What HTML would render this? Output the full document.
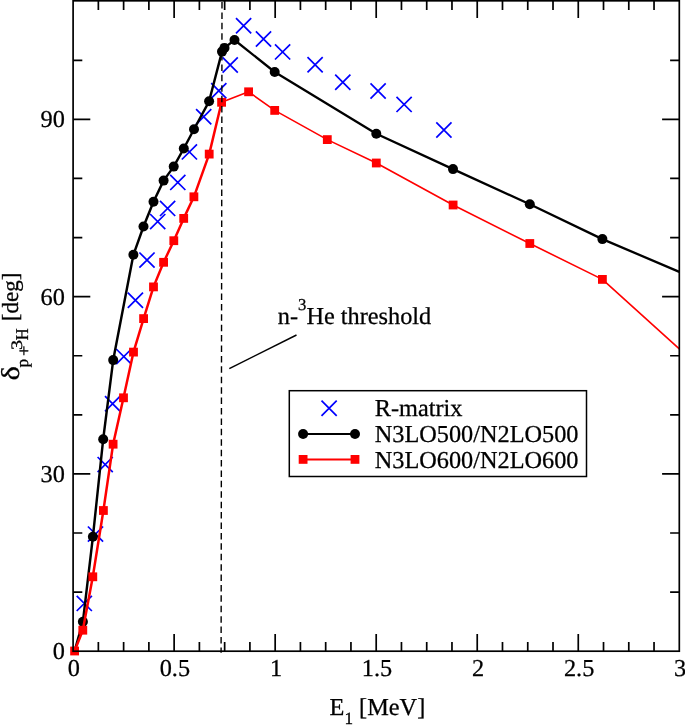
<!DOCTYPE html>
<html><head><meta charset="utf-8"><title>p+3H phase shift</title>
<style>html,body{margin:0;padding:0;background:#fff}svg{display:block}text{font-family:"Liberation Serif",serif;fill:#000;stroke:#000;stroke-width:0.28px;text-rendering:geometricPrecision}</style>
</head><body>
<svg width="685" height="725" viewBox="0 0 685 725">
<rect x="0" y="0" width="685" height="725" fill="#fff"/>
<path d="M76.7 595.8L91.9 611.0M76.7 611.0L91.9 595.8M87.9 526.5L103.1 541.7M87.9 541.7L103.1 526.5M97.6 457.0L112.8 472.2M97.6 472.2L112.8 457.0M105.0 396.1L120.2 411.3M105.0 411.3L120.2 396.1M116.2 349.0L131.4 364.2M116.2 364.2L131.4 349.0M127.8 292.7L143.0 307.9M127.8 307.9L143.0 292.7M139.4 252.5L154.6 267.7M139.4 267.7L154.6 252.5M150.1 214.0L165.3 229.2M150.1 229.2L165.3 214.0M160.0 200.8L175.2 216.0M160.0 216.0L175.2 200.8M170.2 174.8L185.4 190.0M170.2 190.0L185.4 174.8M181.8 144.3L197.0 159.5M181.8 159.5L197.0 144.3M196.1 109.1L211.3 124.3M196.1 124.3L211.3 109.1M211.2 83.2L226.4 98.4M211.2 98.4L226.4 83.2M222.6 57.4L237.8 72.6M222.6 72.6L237.8 57.4M236.0 18.2L251.2 33.4M236.0 33.4L251.2 18.2M255.9 31.4L271.1 46.6M255.9 46.6L271.1 31.4M275.0 44.3L290.2 59.5M275.0 59.5L290.2 44.3M307.5 57.2L322.7 72.4M307.5 72.4L322.7 57.2M335.2 74.7L350.4 89.9M335.2 89.9L350.4 74.7M370.5 83.4L385.7 98.6M370.5 98.6L385.7 83.4M396.5 96.8L411.7 112.0M396.5 112.0L411.7 96.8M436.3 122.4L451.5 137.6M436.3 137.6L451.5 122.4" stroke="#00f" stroke-width="1.7" fill="none"/>
<polyline points="74.6,651.0 82.9,621.7 92.9,536.8 103.2,439.2 113.2,360.1 133.4,254.8 143.5,226.5 153.5,201.7 163.6,180.6 173.7,166.6 183.8,148.5 194.0,129.3 209.1,101.3 222.0,51.6" fill="none" stroke="#000" stroke-width="2.45" stroke-linejoin="round"/>
<polyline points="222.0,51.6 224.5,47.9 234.5,40.0 274.7,72.0 376.3,133.7 453.0,169.1 529.8,204.2 602.4,239.1 679.3,271.9" fill="none" stroke="#000" stroke-width="2.3" stroke-linejoin="round"/>
<circle cx="82.9" cy="621.7" r="5.0" fill="#000"/>
<circle cx="92.9" cy="536.8" r="5.0" fill="#000"/>
<circle cx="103.2" cy="439.2" r="5.0" fill="#000"/>
<circle cx="113.2" cy="360.1" r="5.0" fill="#000"/>
<circle cx="133.4" cy="254.8" r="5.0" fill="#000"/>
<circle cx="143.5" cy="226.5" r="5.0" fill="#000"/>
<circle cx="153.5" cy="201.7" r="5.0" fill="#000"/>
<circle cx="163.6" cy="180.6" r="5.0" fill="#000"/>
<circle cx="173.7" cy="166.6" r="5.0" fill="#000"/>
<circle cx="183.8" cy="148.5" r="5.0" fill="#000"/>
<circle cx="194.0" cy="129.3" r="5.0" fill="#000"/>
<circle cx="209.1" cy="101.3" r="5.0" fill="#000"/>
<circle cx="222.0" cy="51.6" r="5.0" fill="#000"/>
<circle cx="224.5" cy="47.9" r="5.0" fill="#000"/>
<circle cx="234.5" cy="40.0" r="5.0" fill="#000"/>
<circle cx="274.7" cy="72.0" r="5.0" fill="#000"/>
<circle cx="376.3" cy="133.7" r="5.0" fill="#000"/>
<circle cx="453.0" cy="169.1" r="5.0" fill="#000"/>
<circle cx="529.8" cy="204.2" r="5.0" fill="#000"/>
<circle cx="602.4" cy="239.1" r="5.0" fill="#000"/>
<polyline points="74.6,651.0 82.8,630.2 92.8,576.8 103.4,510.5 113.1,444.2 123.5,397.8 133.5,352.1 143.6,318.6 153.5,286.9 163.6,262.3 173.8,240.7 183.7,218.4 193.9,196.8 209.2,154.1 221.6,102.3" fill="none" stroke="#f00" stroke-width="2.5" stroke-linejoin="round"/>
<polyline points="221.6,102.3 248.6,91.8 274.7,110.4 327.3,139.6 376.3,163.0 453.1,205.0 529.8,243.5 602.4,279.4 679.3,348.8" fill="none" stroke="#f00" stroke-width="1.6" stroke-linejoin="round"/>
<rect x="70.2" y="646.6" width="8.8" height="8.8" fill="#f00"/>
<rect x="78.4" y="625.8" width="8.8" height="8.8" fill="#f00"/>
<rect x="88.4" y="572.4" width="8.8" height="8.8" fill="#f00"/>
<rect x="99.0" y="506.1" width="8.8" height="8.8" fill="#f00"/>
<rect x="108.7" y="439.8" width="8.8" height="8.8" fill="#f00"/>
<rect x="119.1" y="393.4" width="8.8" height="8.8" fill="#f00"/>
<rect x="129.1" y="347.7" width="8.8" height="8.8" fill="#f00"/>
<rect x="139.2" y="314.2" width="8.8" height="8.8" fill="#f00"/>
<rect x="149.1" y="282.5" width="8.8" height="8.8" fill="#f00"/>
<rect x="159.2" y="257.9" width="8.8" height="8.8" fill="#f00"/>
<rect x="169.4" y="236.3" width="8.8" height="8.8" fill="#f00"/>
<rect x="179.3" y="214.0" width="8.8" height="8.8" fill="#f00"/>
<rect x="189.5" y="192.4" width="8.8" height="8.8" fill="#f00"/>
<rect x="204.8" y="149.7" width="8.8" height="8.8" fill="#f00"/>
<rect x="217.2" y="97.9" width="8.8" height="8.8" fill="#f00"/>
<rect x="244.2" y="87.4" width="8.8" height="8.8" fill="#f00"/>
<rect x="270.3" y="106.0" width="8.8" height="8.8" fill="#f00"/>
<rect x="322.9" y="135.2" width="8.8" height="8.8" fill="#f00"/>
<rect x="371.9" y="158.6" width="8.8" height="8.8" fill="#f00"/>
<rect x="448.7" y="200.6" width="8.8" height="8.8" fill="#f00"/>
<rect x="525.4" y="239.1" width="8.8" height="8.8" fill="#f00"/>
<rect x="598.0" y="275.0" width="8.8" height="8.8" fill="#f00"/>
<line x1="222.0" y1="2.0" x2="221.1" y2="652.7" stroke="#000" stroke-width="1.4" stroke-dasharray="6.5 3.91"/>
<rect x="73.1" y="0.8" width="606.2" height="650.4" fill="none" stroke="#000" stroke-width="1.7"/>
<path d="M98.36 651.2v-9.2M98.36 0.8v9.2M123.62 651.2v-9.2M123.62 0.8v9.2M148.88 651.2v-9.2M148.88 0.8v9.2M174.13 651.2v-17.2M174.13 0.8v17.2M199.39 651.2v-9.2M199.39 0.8v9.2M224.65 651.2v-9.2M224.65 0.8v9.2M249.91 651.2v-9.2M249.91 0.8v9.2M275.17 651.2v-17.2M275.17 0.8v17.2M300.42 651.2v-9.2M300.42 0.8v9.2M325.68 651.2v-9.2M325.68 0.8v9.2M350.94 651.2v-9.2M350.94 0.8v9.2M376.20 651.2v-17.2M376.20 0.8v17.2M401.46 651.2v-9.2M401.46 0.8v9.2M426.72 651.2v-9.2M426.72 0.8v9.2M451.97 651.2v-9.2M451.97 0.8v9.2M477.23 651.2v-17.2M477.23 0.8v17.2M502.49 651.2v-9.2M502.49 0.8v9.2M527.75 651.2v-9.2M527.75 0.8v9.2M553.01 651.2v-9.2M553.01 0.8v9.2M578.27 651.2v-17.2M578.27 0.8v17.2M603.52 651.2v-9.2M603.52 0.8v9.2M628.78 651.2v-9.2M628.78 0.8v9.2M654.04 651.2v-9.2M654.04 0.8v9.2M73.1 592.11h9.2M679.3 592.11h-9.2M73.1 533.02h9.2M679.3 533.02h-9.2M73.1 473.93h17.2M679.3 473.93h-17.2M73.1 414.84h9.2M679.3 414.84h-9.2M73.1 355.75h9.2M679.3 355.75h-9.2M73.1 296.65h17.2M679.3 296.65h-17.2M73.1 237.56h9.2M679.3 237.56h-9.2M73.1 178.47h9.2M679.3 178.47h-9.2M73.1 119.38h17.2M679.3 119.38h-17.2M73.1 60.29h9.2M679.3 60.29h-9.2" stroke="#000" stroke-width="1.7" fill="none"/>
<text transform="translate(73.9,676.1) scale(1,1)" font-size="24.3" text-anchor="middle">0</text>
<text transform="translate(174.9,676.1) scale(1,1)" font-size="24.3" text-anchor="middle">0.5</text>
<text transform="translate(276.0,676.1) scale(1,1)" font-size="24.3" text-anchor="middle">1</text>
<text transform="translate(377.0,676.1) scale(1,1)" font-size="24.3" text-anchor="middle">1.5</text>
<text transform="translate(478.0,676.1) scale(1,1)" font-size="24.3" text-anchor="middle">2</text>
<text transform="translate(579.1,676.1) scale(1,1)" font-size="24.3" text-anchor="middle">2.5</text>
<text transform="translate(680.1,676.1) scale(1,1)" font-size="24.3" text-anchor="middle">3</text>
<text transform="translate(64.8,659.2) scale(1,1)" font-size="24.3" text-anchor="end">0</text>
<text transform="translate(64.8,481.9) scale(1,1)" font-size="24.3" text-anchor="end">30</text>
<text transform="translate(64.8,304.7) scale(1,1)" font-size="24.3" text-anchor="end">60</text>
<text transform="translate(64.8,127.4) scale(1,1)" font-size="24.3" text-anchor="end">90</text>
<text transform="translate(329.6,714.9) scale(1,1)" font-size="24.3">E<tspan dy="9.5" font-size="17.2">1</tspan><tspan dy="-9.5"> [MeV]</tspan></text>
<text transform="translate(19.4,380.4) rotate(-90) scale(1.26,1.06)" font-size="24.3">δ</text>
<text transform="translate(28.0,367.5) rotate(-90) scale(1,1)" font-size="17.2">p</text>
<text transform="translate(29.9,355.9) rotate(-90) scale(1,1)" font-size="18.5">+</text>
<text transform="translate(22.0,349.9) rotate(-90) scale(1.25,1)" font-size="16">3</text>
<text transform="translate(28.0,340.2) rotate(-90) scale(0.91,1)" font-size="18.1">H</text>
<text transform="translate(18.1,321.3) rotate(-90) scale(1,1)" font-size="23.1">[deg]</text>
<text transform="translate(277.8,323.5) scale(1,1)" font-size="24.3">n-<tspan dy="-13.7" font-size="16.7">3</tspan><tspan dy="13.7">He threshold</tspan></text>
<line x1="229.3" y1="368.6" x2="296.5" y2="335" stroke="#000" stroke-width="1.5"/>
<rect x="289.3" y="390.7" width="297.2" height="85.8" fill="#fff" stroke="#000" stroke-width="1.5"/>
<path d="M321.5 400.7L336.7 415.9M321.5 415.9L336.7 400.7" stroke="#00f" stroke-width="1.7" fill="none"/>
<line x1="303.1" y1="434.1" x2="355" y2="434.1" stroke="#000" stroke-width="2.0"/>
<circle cx="303.1" cy="434" r="5.0"/><circle cx="355" cy="434" r="5.0"/>
<line x1="303.1" y1="459.5" x2="355" y2="459.5" stroke="#f00" stroke-width="2.1"/>
<rect x="298.7" y="455" width="8.8" height="8.8" fill="#f00"/><rect x="350.6" y="455" width="8.8" height="8.8" fill="#f00"/>
<text transform="translate(374.7,416.1) scale(1,1)" font-size="24.3">R-matrix</text>
<text transform="translate(374.7,442.0) scale(1,1)" font-size="24.3">N3LO500/N2LO500</text>
<text transform="translate(374.7,467.6) scale(1,1)" font-size="24.3">N3LO600/N2LO600</text>
</svg>
</body></html>
